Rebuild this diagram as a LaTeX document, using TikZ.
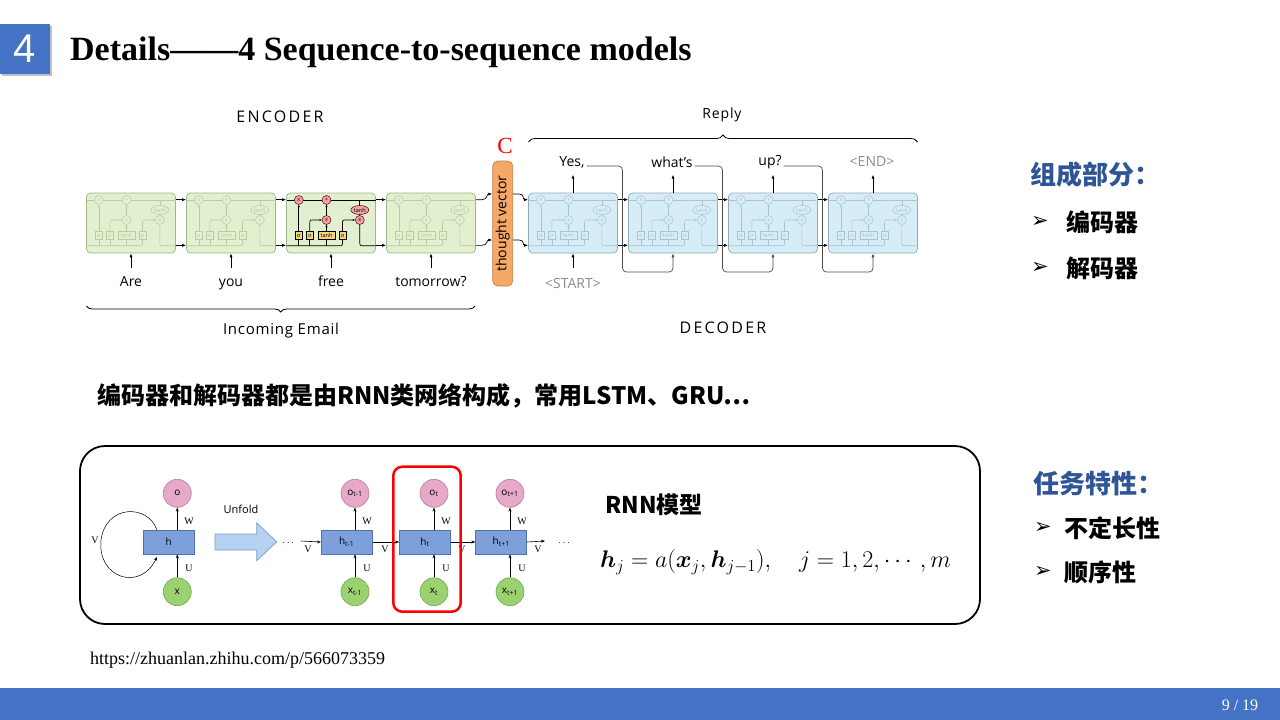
\RequirePackage{fix-cm}
\documentclass[tikz,border=0pt]{standalone}
\usepackage[no-math]{fontspec}
\usepackage{amsmath,bm}
\setmainfont{Liberation Serif}
\newfontfamily\diag{Open Sans}
\newfontfamily\cjk{Noto Sans CJK SC}
\newfontfamily\dejavu{DejaVu Sans}
\newfontfamily\lsans{Liberation Sans}
\usetikzlibrary{arrows.meta,calc,shapes.geometric,decorations.pathreplacing}

\definecolor{slideblue}{HTML}{4472C4}
\definecolor{titleblue}{HTML}{2F5597}
\definecolor{encfill}{HTML}{E2F0CF}
\definecolor{encdraw}{HTML}{9DB58B}
\definecolor{decfill}{HTML}{D6EDF7}
\definecolor{decdraw}{HTML}{95AAB5}
\definecolor{tvfill}{HTML}{F6A868}
\definecolor{tvdraw}{HTML}{C7804A}
\definecolor{encfade}{HTML}{B9CCA2}
\definecolor{decfade}{HTML}{A9C4D2}
\definecolor{gatepink}{HTML}{EFA3A8}
\definecolor{gateyellow}{HTML}{F7D57C}
\definecolor{opink}{HTML}{E6A9C8}
\definecolor{opdraw}{HTML}{B77C9A}
\definecolor{xgreen}{HTML}{9BD170}
\definecolor{xgdraw}{HTML}{6FA84A}
\definecolor{hblue}{HTML}{7EA0DA}
\definecolor{hbdraw}{HTML}{4F72B0}
\definecolor{arrowfill}{HTML}{B7D1F2}
\definecolor{arrowdraw}{HTML}{7C9DCB}

\tikzset{
 cellenc/.style={draw=encdraw, fill=encfill, rounded corners=4, minimum width=89, minimum height=60, inner sep=0, line width=0.7},
 celldec/.style={draw=decdraw, fill=decfill, rounded corners=4, minimum width=89, minimum height=60, inner sep=0, line width=0.7},
 lbl/.style={font=\diag\fontsize{14}{14}\selectfont, inner sep=0},
 biglbl/.style={font=\diag\fontsize{16}{16}\selectfont\addfontfeatures{LetterSpace=14}, inner sep=0},
 flow/.style={-{Latex[length=4,width=3]}, line width=0.7},
 gcbase/.style={circle, minimum size=9, inner sep=0, line width=0.5, font=\diag\fontsize{5.5}{5.5}\selectfont},
 gbbase/.style={rectangle, minimum height=8, minimum width=7, inner sep=0, line width=0.5, font=\diag\fontsize{5.5}{5.5}\selectfont},
 lna/.style={ln, -{Latex[length=2.5,width=2.2]}},
 encfaded/.style={ln/.style={draw=encfade, line width=0.6}, gc/.style={gcbase, draw=encfade, fill=encfill, text=encfade}, gb/.style={gbbase, draw=encfade, fill=encfill, text=encfade}},
 decfaded/.style={ln/.style={draw=decfade, line width=0.6}, gc/.style={gcbase, draw=decfade, fill=decfill, text=decfade}, gb/.style={gbbase, draw=decfade, fill=decfill, text=decfade}},
 activecell/.style={ln/.style={draw=black, line width=0.7}, gc/.style={gcbase, draw=black!60!red, fill=gatepink, text=black}, gb/.style={gbbase, draw=black, fill=gateyellow, text=black}},
 hbox/.style={draw=hbdraw, fill=hblue, minimum width=51, minimum height=24, inner sep=0, line width=0.6, font=\diag\fontsize{10}{10}\selectfont},
 ocirc/.style={circle, draw=opdraw, fill=opink, minimum size=28, inner sep=0, line width=0.6, font=\diag\fontsize{10}{10}\selectfont},
 xcirc/.style={circle, draw=xgdraw, fill=xgreen, minimum size=28, inner sep=0, line width=0.6, font=\diag\fontsize{10}{10}\selectfont},
 rarrow/.style={-{Stealth[length=4,width=3]}, line width=0.6},
 wl/.style={font=\fontsize{10}{10}\selectfont, inner sep=0},
 cjkb/.style={font=\cjk\bfseries\fontsize{#1}{#1}\selectfont, inner sep=0, anchor=west},
 bullet/.style={font=\dejavu\fontsize{21}{21}\selectfont, inner sep=0},
}

\newcommand{\lstminner}{%
 \draw[ln] (0,7) -- (89,7);
 \draw[ln] (0,52.7) -- (52,52.7) .. controls (56,52.7) .. (56,48.7) -- (56,46.7);
 \draw[ln] (12.3,52.7) -- (12.3,46.7);
 \draw[lna] (12.3,38.7) -- (12.3,11.5);
 \draw[ln] (23.3,52.7) -- (23.3,46.7);
 \draw[lna] (23.3,38.7) -- (23.3,31) .. controls (23.3,27) .. (27.3,27) -- (35.5,27);
 \draw[ln] (40,52.7) -- (40,46.7);
 \draw[lna] (40,38.7) -- (40,31.5);
 \draw[lna] (40,22.5) -- (40,11.5);
 \draw[lna] (56,38.7) -- (56,31) .. controls (56,27) .. (60,27) -- (68.8,27);
 \draw[ln] (73.3,7) -- (73.3,13);
 \draw[ln] (73.3,21) -- (73.3,22.5);
 \draw[ln] (73.3,31.5) -- (73.3,48.7) .. controls (73.3,52.7) .. (77.3,52.7) -- (89,52.7);
 \node[gc] (gfx) at (12.3,7) {x};
 \node[gc] (gadd) at (40,7) {+};
 \node[gc] (gix) at (40,27) {x};
 \node[gc] (gox) at (73.3,27) {x};
 \node[gc, ellipse, minimum width=18, minimum height=9] (gth) at (73.3,17) {tanh};
 \node[gb] (bs1) at (12.3,42.7) {σ};
 \node[gb] (bs2) at (23.3,42.7) {σ};
 \node[gb, minimum width=17] (bth) at (40,42.7) {tanh};
 \node[gb] (bs3) at (56,42.7) {σ};
}

\begin{document}
\begin{tikzpicture}[x=1pt, y=-1pt]
\useasboundingbox (0,0) rectangle (1280,720);
\fill[white] (0,0) rectangle (1280,720);

% ---------- title ----------
\fill[black!25] (2,26) rectangle (52,76);
\node[fill=slideblue, minimum size=50, inner sep=0, text=white, font=\lsans\fontsize{40}{40}\selectfont] (num) at (25,49) {4};
\node[anchor=west, inner sep=0, font=\bfseries\fontsize{34}{34}\selectfont] (title) at (70,52) {Details——4 Sequence-to-sequence models};

% ---------- encoder ----------
\node[biglbl] (enclbl) at (280,117) {ENCODER};
\foreach \i/\xx/\w in {1/86.5/Are,2/186.5/you,3/286.5/free,4/386.5/tomorrow?} {
  \node[cellenc] (e\i) at (\xx+44.5,223) {};
  \node[lbl, anchor=base] (w\i) at (\xx+44.5,286.5) {\w};
  \draw[flow] (e\i.south |- 0,268) -- (e\i.south);
}
\begin{scope}[shift={(86.5,193)}, encfaded] \lstminner \end{scope}
\begin{scope}[shift={(186.5,193)}, encfaded] \lstminner \end{scope}
\begin{scope}[shift={(286.5,193)}, activecell] \lstminner \end{scope}
\begin{scope}[shift={(386.5,193)}, encfaded] \lstminner \end{scope}
\foreach \a/\b in {1/2,2/3,3/4} {
  \draw[flow] ($(e\a.north east)+(0,7)$) -- ($(e\b.north west)+(0,7)$);
  \draw[flow] ($(e\a.north east)+(0,52.7)$) -- ($(e\b.north west)+(0,52.7)$);
}
\draw[decorate, decoration={brace, amplitude=6}, line width=0.8] (475,306) -- (86.5,306);
\node[font=\diag\fontsize{15}{15}\selectfont\addfontfeatures{LetterSpace=5}, inner sep=0] (inlbl) at (281,331) {Incoming Email};

% ---------- thought vector ----------
\node[draw=tvdraw, fill=tvfill, rounded corners=5, minimum width=20, minimum height=125, inner sep=0, line width=0.7] (tv) at (502.7,223.5) {};
\node[rotate=90, font=\diag\fontsize{14}{14}\selectfont, inner sep=0] (tvtxt) at (tv.center) {thought vector};
\node[text=red, font=\fontsize{23}{23}\selectfont, inner sep=0] (clbl) at (505,146) {C};
\draw[flow] ($(e4.north east)+(0,7)$) -- ++(6,0) .. controls +(6,0) and +(-6,0) .. ($(tv.west)+(0,-29.5)$);
\draw[flow] ($(e4.north east)+(0,52.7)$) -- ++(6,0) .. controls +(6,0) and +(-6,0) .. ($(tv.west)+(0,16.5)$);

% ---------- decoder ----------
\foreach \i/\xx in {1/528.5,2/628.5,3/728.5,4/828.5} {
  \node[celldec] (d\i) at (\xx+44.5,223) {};
  \draw[flow] (d\i.north) -- ++(0,-18);
}
\foreach \xx in {528.5,628.5,728.5,828.5} {
  \begin{scope}[shift={(\xx,193)}, decfaded] \lstminner \end{scope}
}
\draw[flow] ($(tv.east)+(0,-29.5)$) -- ++(6,0) .. controls +(6,0) and +(-6,0) .. ($(d1.north west)+(0,7)$);
\draw[flow] ($(tv.east)+(0,16.5)$) -- ++(6,0) .. controls +(6,0) and +(-6,0) .. ($(d1.north west)+(0,52.7)$);
\foreach \a/\b in {1/2,2/3,3/4} {
  \draw[flow] ($(d\a.north east)+(0,7)$) -- ($(d\b.north west)+(0,7)$);
  \draw[flow] ($(d\a.north east)+(0,52.7)$) -- ($(d\b.north west)+(0,52.7)$);
}
\node[lbl] (yes) at (572,162) {Yes,};
\node[lbl] (what) at (672,162) {what’s};
\node[lbl] (up) at (770,162) {up?};
\node[lbl, text=black!45] (endl) at (872,162) {<END>};
\node[lbl, text=black!45] (start) at (573,283) {<START>};
\draw[flow] (d1.south |- 0,268) -- (d1.south);
\draw[flow, draw=black!70, rounded corners=4] ($(yes.east)+(2,4)$) -| (622.5,272) -| (d2.south);
\draw[flow, draw=black!70, rounded corners=4] ($(what.east)+(2,4)$) -| (722.5,272) -| (d3.south);
\draw[flow, draw=black!70, rounded corners=4] ($(up.east)+(2,4)$) -| (822.5,272) -| (d4.south);
\draw[decorate, decoration={brace, amplitude=7}, line width=0.8] (528.5,142) -- (917.5,142);
\node[font=\diag\fontsize{14}{14}\selectfont\addfontfeatures{LetterSpace=6}, inner sep=0] (reply) at (722,115) {Reply};
\node[biglbl] (declbl) at (723,328) {DECODER};

% ---------- right column ----------
\node[cjkb=26, text=titleblue] (comp) at (1030,175) {组成部分：};
\node[bullet] (b1) at (1040,222) {➢};
\node[cjkb=24] (t1) at (1066,222) {编码器};
\node[bullet] (b2) at (1040,268) {➢};
\node[cjkb=24] (t2) at (1066,268) {解码器};
\node[cjkb=26, text=titleblue] (task) at (1033,484) {任务特性：};
\node[bullet] (b3) at (1043,528) {➢};
\node[cjkb=24] (t3) at (1064,528) {不定长性};
\node[bullet] (b4) at (1043,572) {➢};
\node[cjkb=24] (t4) at (1064,572) {顺序性};

% ---------- middle sentence ----------
\node[cjkb=24] (sent) at (97,396) {编码器和解码器都是由RNN类网络构成，常用LSTM、GRU…};

% ---------- RNN panel ----------
\draw[line width=1.8, rounded corners=25] (80,446) rectangle (980,624);
\node[hbox] (h0) at (168.8,542) {h};
\node[ocirc] (o0) at (177.3,493.3) {o};
\node[xcirc] (x0) at (177.3,591.7) {x};
\draw[rarrow] (x0.north) -- (x0.north |- h0.south);
\draw[rarrow] (o0.south |- h0.north) -- (o0.south);
\node[wl] (u0) at (189,568) {U};
\node[wl] (w0) at (189,521) {W};
\draw[rarrow, line width=0.5] (157,530) .. controls (148,504) and (106,504) .. (101,540) .. controls (97,578) and (140,592) .. (157,557);
\node[wl] (v0) at (95,540) {V};
\node[font=\diag\fontsize{11}{11}\selectfont, inner sep=0] (unf) at (241,509) {Unfold};
\draw[draw=arrowdraw, fill=arrowfill, line width=0.7] (215,534) -- (256.7,534) -- (256.7,522.7) -- (276.7,542) -- (256.7,560.7) -- (256.7,550) -- (215,550) -- cycle;
\node[inner sep=0] (dots1) at (289,543) {$\cdots$};
\coordinate (in1) at (300.7,541);
\node[hbox] (h1) at (346.7,542) {h\textsubscript{t-1}};
\node[ocirc] (o1) at (355,493.3) {o\textsubscript{t-1}};
\node[xcirc] (x1) at (355,591.7) {x\textsubscript{t-1}};
\node[hbox] (h2) at (425,542) {h\textsubscript{t}};
\node[ocirc] (o2) at (434,493.3) {o\textsubscript{t}};
\node[xcirc] (x2) at (434,591.7) {x\textsubscript{t}};
\node[hbox] (h3) at (501.2,542) {h\textsubscript{t+1}};
\node[ocirc] (o3) at (510,493.3) {o\textsubscript{t+1}};
\node[xcirc] (x3) at (510,591.7) {x\textsubscript{t+1}};
\foreach \k/\xx in {1/355,2/434,3/510} {
  \draw[rarrow] (x\k.north) -- (x\k.north |- h\k.south);
  \draw[rarrow] (o\k.south |- h\k.north) -- (o\k.south);
  \node[wl] (u\k) at (\xx+12,568) {U};
  \node[wl] (w\k) at (\xx+12,521) {W};
}
\coordinate (out1) at (545,541);
\draw[rarrow] (in1) -- (h1.west);
\draw[rarrow] (h1.east) -- (h2.west);
\draw[rarrow] (h2.east) -- (h3.west);
\draw[rarrow] (h3.east) -- (out1);
\node[wl] (v1) at (308,549) {V};
\node[wl] (v2) at (385,549) {V};
\node[wl] (v3) at (462,549) {V};
\node[wl] (v4) at (538,549) {V};
\node[inner sep=0] (dots2) at (565,543) {$\cdots$};
\draw[red, line width=2.5, rounded corners=9] (393.3,466.7) rectangle (460.7,611.7);

\node[cjkb=23] (rnnm) at (605,505) {RNN模型};
\node[anchor=west, inner sep=0, font=\fontsize{24}{24}\selectfont] (eq) at (600,562) {$\bm{h}_j = a(\bm{x}_j, \bm{h}_{j-1}), \quad j = 1, 2, \cdots, m$};

% ---------- footer ----------
\node[anchor=west, inner sep=0, font=\fontsize{18}{18}\selectfont] (url) at (90,660) {https://zhuanlan.zhihu.com/p/566073359};
\fill[slideblue] (0,688) rectangle (1280,720);
\node[text=white, inner sep=0, font=\fontsize{16}{16}\selectfont] (page) at (1240,705) {9 / 19};
\end{tikzpicture}
\end{document}
